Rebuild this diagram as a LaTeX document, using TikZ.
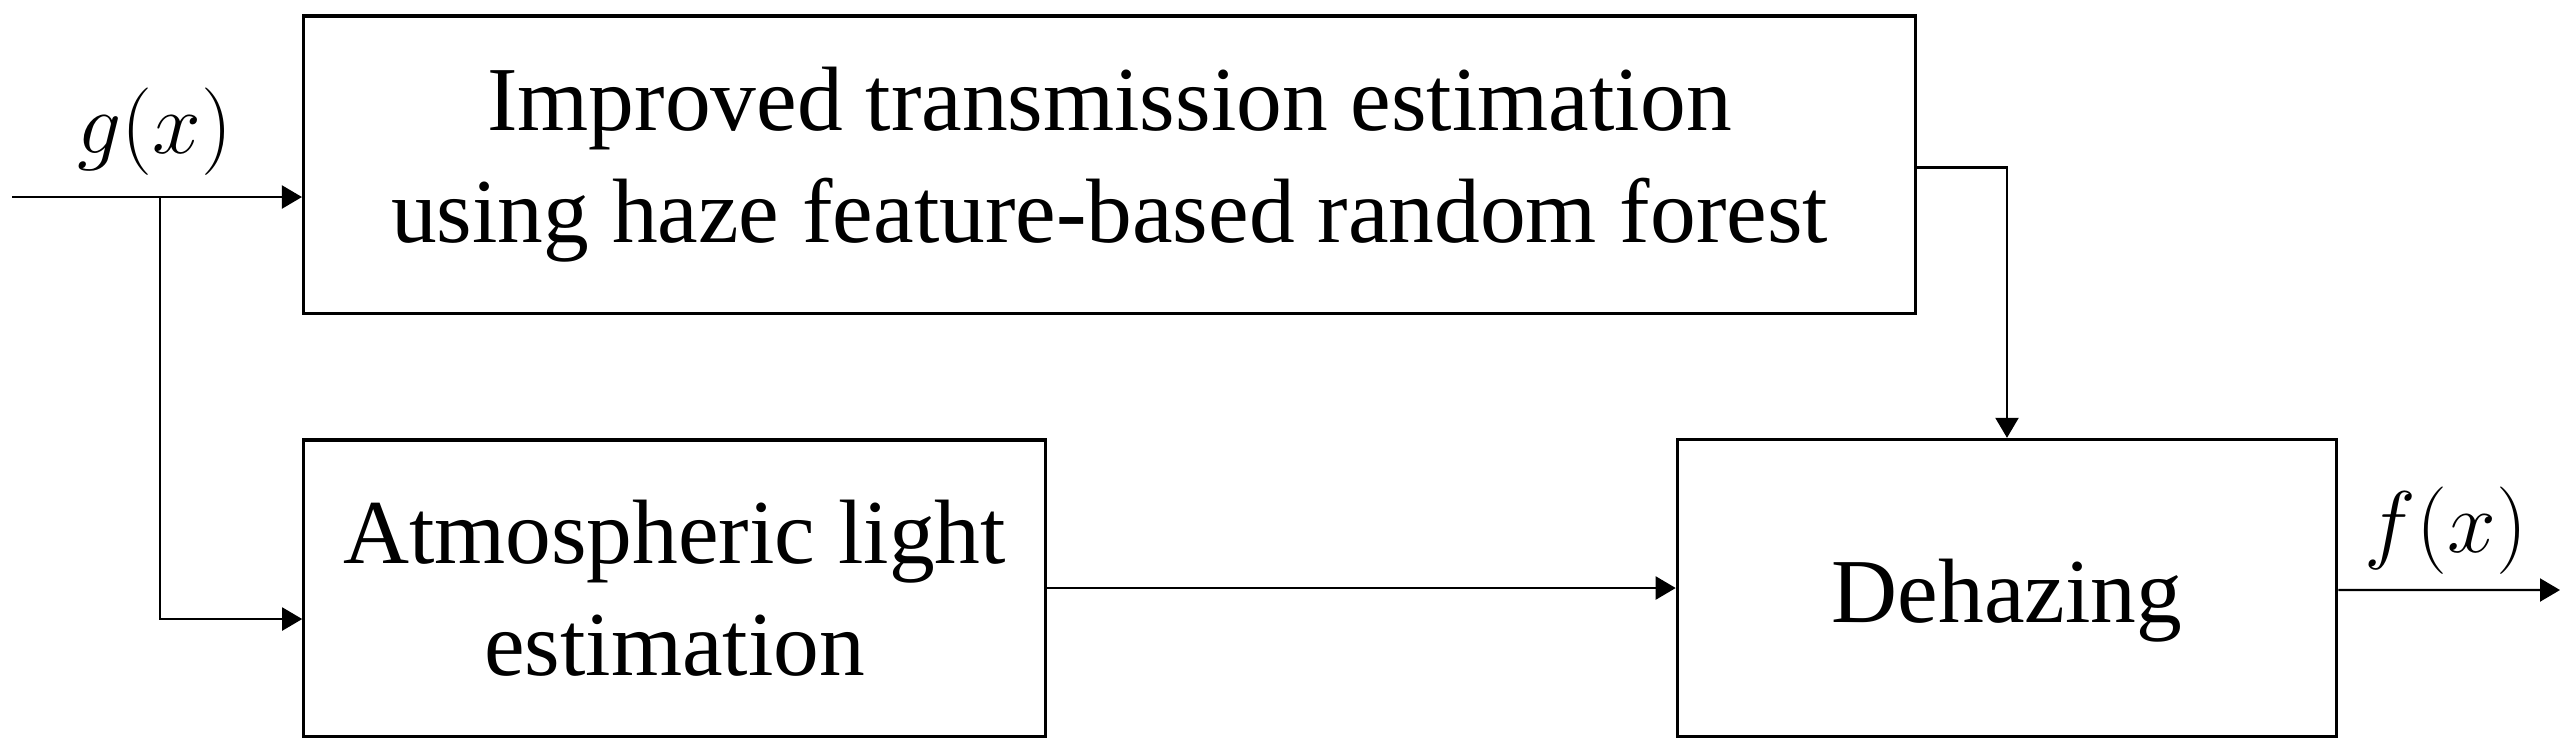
\documentclass[tikz,border=0pt]{standalone}
\usepackage{fontspec}
\setmainfont{Liberation Serif}
\usetikzlibrary{arrows.meta}

\begin{document}
\begin{tikzpicture}[x=0.01cm,y=-0.01cm,
	block/.style={draw,line width=0.9pt,align=center,inner sep=0pt,font=\fontsize{26}{32}\selectfont},
	link/.style={line width=0.6pt,-{Triangle[length=0.2cm,width=0.23cm]}}]
	\useasboundingbox (0,0) rectangle (2571,753);
	\node[block,minimum width=16.11cm,minimum height=2.97cm] (trans) at (1109.5,164.5) {Improved transmission estimation\\using haze feature-based random forest};
	\node[block,minimum width=7.41cm,minimum height=2.96cm] (atmo) at (674.5,588) {Atmospheric light\\estimation};
	\node[block,minimum width=6.59cm,minimum height=2.97cm,text height=0.88cm] (dehaze) at (2007,588) {Dehazing};
	\node[anchor=base,font=\fontsize{28}{34}\selectfont] (gx) at (155,153) {$g(x)$};
	\node[anchor=base,font=\fontsize{28}{34}\selectfont] (fx) at (2446,552) {$f(x)$};
	\coordinate (in) at (12,197);
	\coordinate (split) at (160,197);
	\coordinate (out) at (2560,590);
	\draw[link] (in) -- (in -| trans.west);
	\draw[link] (split) |- ([yshift=-0.31cm]atmo.west);
	\draw[link] ([yshift=-0.03cm]trans.east) -| (dehaze.north);
	\draw[link] (atmo.east) -- (dehaze.west);
	\draw[link] ([yshift=-0.02cm]dehaze.east) -- (out);
\end{tikzpicture}
\end{document}
